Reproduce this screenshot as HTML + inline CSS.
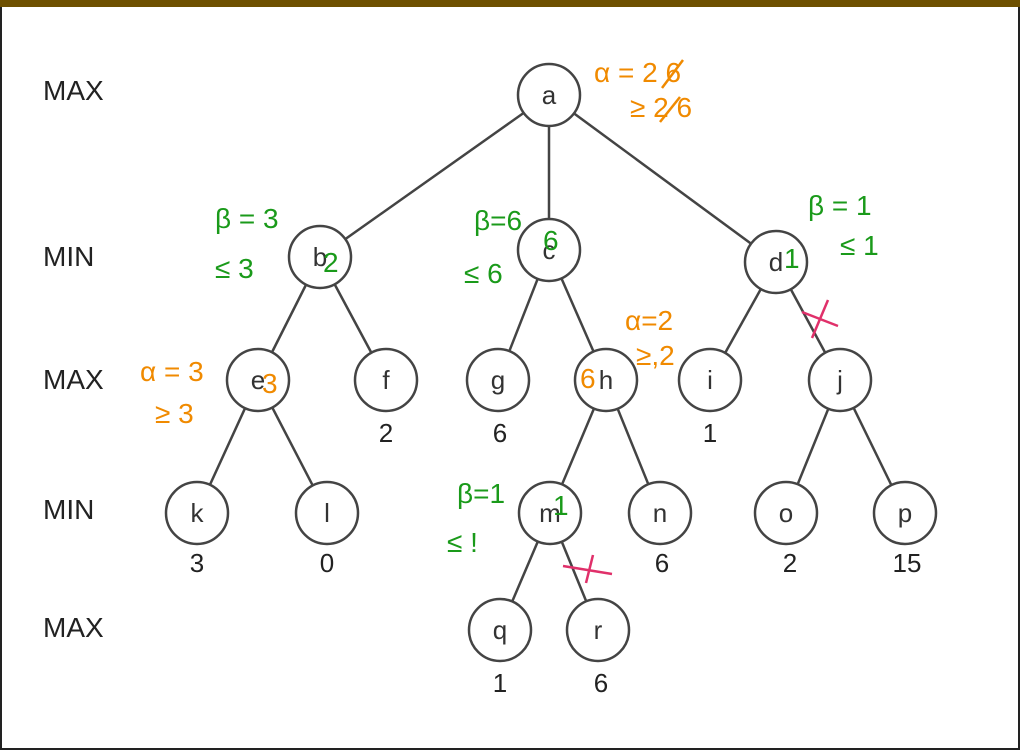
<!DOCTYPE html>
<html><head><style>
html,body{margin:0;padding:0;background:#fff}
svg{display:block}
</style></head><body>
<svg width="1020" height="750" viewBox="0 0 1020 750" xmlns="http://www.w3.org/2000/svg" font-family="Liberation Sans, sans-serif">
<rect x="0" y="0" width="1020" height="750" fill="#fff"/>
<rect x="0" y="0" width="1020" height="7" fill="#6e5000"/>
<rect x="0" y="7" width="2" height="743" fill="#222"/>
<rect x="0" y="748" width="1020" height="2" fill="#222"/>
<rect x="1018" y="7" width="2" height="743" fill="#222"/>
<g stroke="#444" stroke-width="2.5" fill="none">
<line x1="549" y1="95" x2="320" y2="257"/><line x1="549" y1="95" x2="549" y2="250"/><line x1="549" y1="95" x2="776" y2="262"/>
<line x1="320" y1="257" x2="258" y2="380"/><line x1="320" y1="257" x2="386" y2="380"/>
<line x1="549" y1="250" x2="498" y2="380"/><line x1="549" y1="250" x2="606" y2="380"/>
<line x1="776" y1="262" x2="710" y2="380"/><line x1="776" y1="262" x2="840" y2="380"/>
<line x1="258" y1="380" x2="197" y2="513"/><line x1="258" y1="380" x2="327" y2="513"/>
<line x1="606" y1="380" x2="550" y2="513"/><line x1="606" y1="380" x2="660" y2="513"/>
<line x1="840" y1="380" x2="786" y2="513"/><line x1="840" y1="380" x2="905" y2="513"/>
<line x1="550" y1="513" x2="500" y2="630"/><line x1="550" y1="513" x2="598" y2="630"/>
</g>
<g stroke="#444" stroke-width="2.5" fill="#fff">
<circle cx="549" cy="95" r="31"/><circle cx="320" cy="257" r="31"/><circle cx="549" cy="250" r="31"/><circle cx="776" cy="262" r="31"/>
<circle cx="258" cy="380" r="31"/><circle cx="386" cy="380" r="31"/><circle cx="498" cy="380" r="31"/><circle cx="606" cy="380" r="31"/><circle cx="710" cy="380" r="31"/><circle cx="840" cy="380" r="31"/>
<circle cx="197" cy="513" r="31"/><circle cx="327" cy="513" r="31"/><circle cx="550" cy="513" r="31"/><circle cx="660" cy="513" r="31"/><circle cx="786" cy="513" r="31"/><circle cx="905" cy="513" r="31"/>
<circle cx="500" cy="630" r="31"/><circle cx="598" cy="630" r="31"/>
</g>
<g fill="#333" font-size="26" text-anchor="middle">
<text x="549" y="104">a</text><text x="320" y="266">b</text><text x="549" y="259">c</text><text x="776" y="271">d</text>
<text x="258" y="389">e</text><text x="386" y="389">f</text><text x="498" y="389">g</text><text x="606" y="389">h</text><text x="710" y="389">i</text><text x="840" y="389">j</text>
<text x="197" y="522">k</text><text x="327" y="522">l</text><text x="550" y="522">m</text><text x="660" y="522">n</text><text x="786" y="522">o</text><text x="905" y="522">p</text>
<text x="500" y="639">q</text><text x="598" y="639">r</text>
</g>
<g fill="#222" font-size="26" text-anchor="middle">
<text x="386" y="442">2</text><text x="500" y="442">6</text><text x="710" y="442">1</text>
<text x="197" y="572">3</text><text x="327" y="572">0</text><text x="662" y="572">6</text><text x="790" y="572">2</text><text x="907" y="572">15</text>
<text x="500" y="692">1</text><text x="601" y="692">6</text>
</g>
<g fill="#222" font-size="28">
<text x="43" y="100">MAX</text><text x="43" y="266">MIN</text><text x="43" y="389">MAX</text><text x="43" y="519">MIN</text><text x="43" y="637">MAX</text>
</g>
<g fill="#f08a00" font-size="28">
<text x="594" y="82">α = 2 6</text><text x="630" y="117">≥ 2 6</text>
<text x="625" y="330">α=2</text><text x="636" y="365">≥,2</text>
<text x="140" y="381">α = 3</text><text x="155" y="423">≥ 3</text>
<text x="262" y="393">3</text><text x="580" y="388">6</text>
</g>
<g stroke="#f08a00" stroke-width="2.5"><line x1="662" y1="88" x2="683" y2="60"/><line x1="660" y1="122" x2="680" y2="97"/></g>
<g fill="#1a9a1a" font-size="28">
<text x="215" y="228">β = 3</text><text x="215" y="278">≤ 3</text>
<text x="474" y="230">β=6</text><text x="464" y="283">≤ 6</text>
<text x="808" y="215">β = 1</text><text x="840" y="255">≤ 1</text>
<text x="457" y="503">β=1</text><text x="447" y="552">≤ !</text>
<text x="323" y="272">2</text><text x="543" y="250">6</text><text x="784" y="268">1</text><text x="553" y="515">1</text>
</g>
<g stroke="#e0306a" stroke-width="2.5"><line x1="802" y1="312" x2="838" y2="326"/><line x1="812" y1="338" x2="828" y2="300"/>
<line x1="563" y1="566" x2="612" y2="574"/><line x1="586" y1="583" x2="593" y2="555"/></g>
</svg>
</body></html>
